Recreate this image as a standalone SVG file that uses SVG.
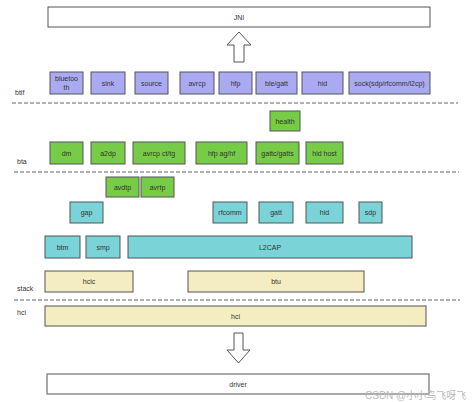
<svg xmlns="http://www.w3.org/2000/svg" width="474" height="402" viewBox="0 0 474 402">
<style>
text{font-family:"Liberation Sans",Arial,sans-serif;font-size:7px;fill:#333;text-anchor:middle;dominant-baseline:central}
.lbl{text-anchor:start}
.node rect{stroke:#555;stroke-width:1}
.w{fill:#fff}
.p{fill:#aaaaf2}
.g{fill:#77cc47}
.c{fill:#79d3d7}
.y{fill:#f3edc1}
.dash{stroke:#666;stroke-width:1.2;stroke-dasharray:4 2;fill:none}
.arr{fill:#fff;stroke:#555;stroke-width:1}
.wm{font-family:"Liberation Sans","Noto Sans CJK SC",sans-serif;font-size:10px;fill:#bbb;text-anchor:start}
</style>
<rect width="474" height="402" fill="#fff"/>
<g id="layer-labels">
<text class="lbl" x="15" y="92">btif</text>
<text class="lbl" x="17" y="161">bta</text>
<text class="lbl" x="17" y="288">stack</text>
<text class="lbl" x="17" y="312">hci</text>
</g>
<g id="connectors">
<path class="dash" d="M12 103H458"/>
<path class="dash" d="M14 172H459"/>
<path class="dash" d="M14 300H460"/>
<path class="arr" d="M239 32L227 45H234V62H244V45H251Z"/>
<path class="arr" d="M234 333H243V350H250L238.5 363L227 350H234Z"/>
</g>
<g id="jni" class="node"><rect class="w" x="48" y="7" width="382" height="20"/><text x="239" y="17">JNI</text></g>
<g id="bluetooth" class="node"><rect class="p" x="50" y="72" width="33" height="22"/><text x="66.5" y="78.5">bluetoo</text><text x="66.5" y="87.5">th</text></g>
<g id="sink" class="node"><rect class="p" x="91" y="72" width="34" height="22"/><text x="108" y="83">sink</text></g>
<g id="source" class="node"><rect class="p" x="135" y="72" width="33" height="22"/><text x="151.5" y="83">source</text></g>
<g id="avrcp" class="node"><rect class="p" x="180" y="72" width="34" height="22"/><text x="197" y="83">avrcp</text></g>
<g id="hfp" class="node"><rect class="p" x="219" y="72" width="33" height="22"/><text x="235.5" y="83">hfp</text></g>
<g id="ble-gatt" class="node"><rect class="p" x="256" y="72" width="41" height="22"/><text x="276.5" y="83">ble/gatt</text></g>
<g id="btif-hid" class="node"><rect class="p" x="302" y="72" width="41" height="22"/><text x="322.5" y="83">hid</text></g>
<g id="sock" class="node"><rect class="p" x="349" y="72" width="81" height="22"/><text x="389.5" y="83">sock(sdp/rfcomm/l2cp)</text></g>
<g id="health" class="node"><rect class="g" x="270" y="111" width="30" height="20"/><text x="285" y="121">health</text></g>
<g id="dm" class="node"><rect class="g" x="50" y="142" width="33" height="22"/><text x="66.5" y="153">dm</text></g>
<g id="a2dp" class="node"><rect class="g" x="91" y="142" width="34" height="22"/><text x="108" y="153">a2dp</text></g>
<g id="avrcp-cttg" class="node"><rect class="g" x="133" y="142" width="52" height="22"/><text x="159" y="153">avrcp ct/tg</text></g>
<g id="hfp-aghf" class="node"><rect class="g" x="196" y="142" width="51" height="22"/><text x="221.5" y="153">hfp ag/hf</text></g>
<g id="gattc-gatts" class="node"><rect class="g" x="256" y="142" width="43" height="22"/><text x="277.5" y="153">gattc/gatts</text></g>
<g id="hid-host" class="node"><rect class="g" x="306" y="142" width="37" height="22"/><text x="324.5" y="153">hid host</text></g>
<g id="avdtp" class="node"><rect class="g" x="106" y="177" width="33" height="20"/><text x="122.5" y="187">avdtp</text></g>
<g id="avrtp" class="node"><rect class="g" x="141" y="177" width="33" height="20"/><text x="157.5" y="187">avrtp</text></g>
<g id="gap" class="node"><rect class="c" x="70" y="202" width="33" height="21"/><text x="86.5" y="212.5">gap</text></g>
<g id="rfcomm" class="node"><rect class="c" x="213" y="202" width="34" height="21"/><text x="230" y="212.5">rfcomm</text></g>
<g id="gatt" class="node"><rect class="c" x="259" y="202" width="34" height="21"/><text x="276" y="212.5">gatt</text></g>
<g id="stack-hid" class="node"><rect class="c" x="306" y="202" width="37" height="21"/><text x="324.5" y="212.5">hid</text></g>
<g id="sdp" class="node"><rect class="c" x="359" y="202" width="23" height="21"/><text x="370.5" y="212.5">sdp</text></g>
<g id="btm" class="node"><rect class="c" x="45" y="236" width="35" height="22"/><text x="62.5" y="247">btm</text></g>
<g id="smp" class="node"><rect class="c" x="86" y="236" width="34" height="22"/><text x="103" y="247">smp</text></g>
<g id="l2cap" class="node"><rect class="c" x="128" y="236" width="284" height="22"/><text x="270" y="247">L2CAP</text></g>
<g id="hcic" class="node"><rect class="y" x="45" y="271" width="88" height="21"/><text x="89" y="281.5">hcic</text></g>
<g id="btu" class="node"><rect class="y" x="188" y="271" width="176" height="21"/><text x="276" y="281.5">btu</text></g>
<g id="hci" class="node"><rect class="y" x="45" y="306" width="381" height="20"/><text x="235.5" y="316">hci</text></g>
<g id="driver" class="node"><rect class="w" x="47" y="374" width="382" height="20"/><text x="238" y="384">driver</text></g>
<text class="wm" x="365" y="395" dominant-baseline="auto">CSDN @小小鸟飞呀飞</text>
</svg>
